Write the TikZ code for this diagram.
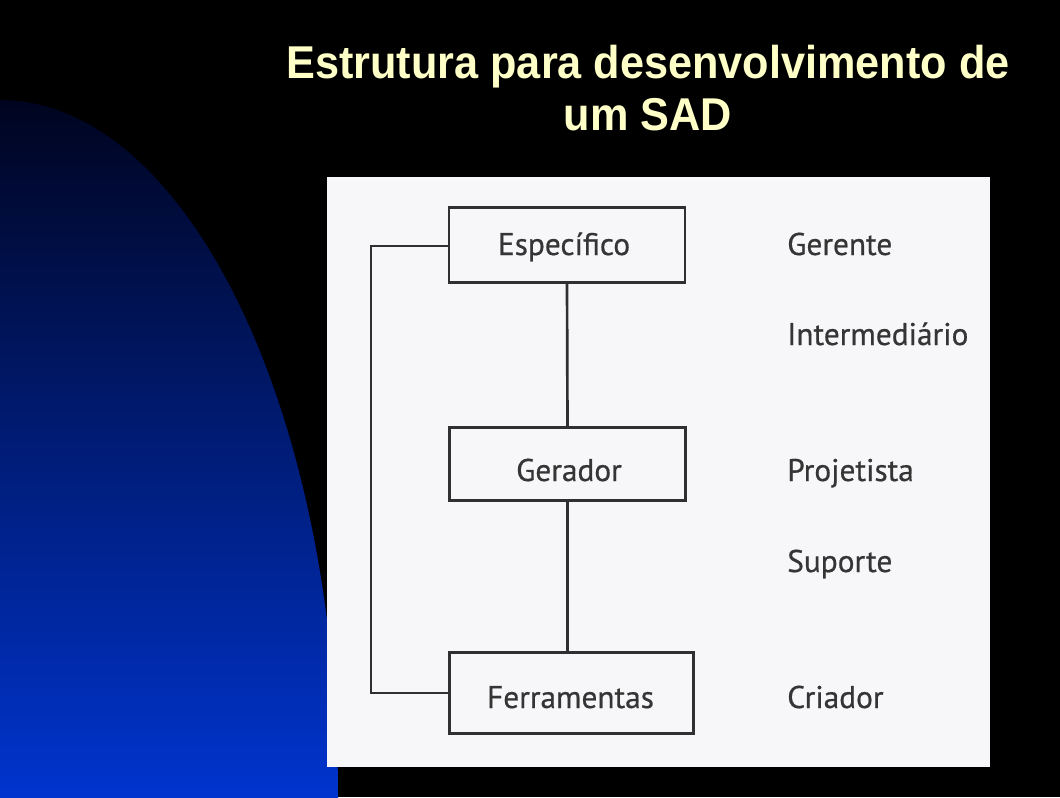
\documentclass[tikz,border=0pt]{standalone}
\usepackage{fontspec}
\setmainfont{PT Sans}
\newfontfamily\diagfont{PT Sans}[FakeBold=0.6]
\newfontfamily\titlefont{Liberation Sans}
\definecolor{titleyellow}{HTML}{FFFFC8}
\definecolor{paneltone}{HTML}{F7F7F9}
\definecolor{boxgray}{HTML}{303030}
\definecolor{inkgray}{HTML}{353535}
\definecolor{bluetop}{HTML}{00041F}
\definecolor{bluemid}{HTML}{00239A}
\definecolor{bluebottom}{HTML}{0034CE}
\begin{document}
\begin{tikzpicture}[x=0.75pt,y=-0.75pt,
  titletext/.style={anchor=base, text=titleyellow, inner sep=0pt,
    font=\titlefont\bfseries\fontsize{34.5pt}{40pt}\selectfont},
  levelbox/.style={draw=boxgray, line width=2.2pt, rectangle, inner sep=0pt,
    font=\diagfont\fontsize{23.5pt}{28pt}\selectfont, text=inkgray},
  roletext/.style={anchor=base west, inner sep=0pt, text=inkgray,
    font=\diagfont\fontsize{23.5pt}{28pt}\selectfont},
  link/.style={draw=boxgray, line width=2pt}]
% background
\fill[black] (0,0) rectangle (1060,797);
\useasboundingbox (0,0) rectangle (1060,797);
\begin{scope}
  \clip (0,797) ellipse [x radius=338, y radius=697];
  \shade[top color=bluetop, middle color=bluemid, bottom color=bluebottom] (0,100) rectangle (340,797);
\end{scope}
% title
\node[titletext] (t1) at (648,78) {\scalebox{0.94}[1]{Estrutura para desenvolvimento de}};
\node[titletext] (t2) at (648,130) {\scalebox{0.94}[1]{um SAD}};
% panel
\fill[paneltone] (327,177) rectangle (990,767);
% boxes
\node[levelbox, minimum width=177pt, minimum height=56pt] (esp) at (567,245) {};
\node[levelbox, minimum width=177pt, minimum height=55pt] (ger) at (567.5,464) {};
\node[levelbox, minimum width=183pt, minimum height=61pt] (fer) at (571.5,693) {};
\node[roletext, anchor=base] (espt) at (564,255) {Específico};
\node[roletext, anchor=base] (gert) at (569,481) {Gerador};
\node[roletext, anchor=base] (fert) at (570.5,708) {Ferramentas};
% connectors
\coordinate (lt) at (371,246);
\draw[link] (esp.south) -- (ger.north);
\draw[link] (ger.south) -- (fer.north -| ger.south);
\draw[link] (esp.west |- lt) -- (lt) |- (fer.west);
% roles
\node[roletext] (r1) at (787,255) {Gerente};
\node[roletext] (r2) at (787,345) {Intermediário};
\node[roletext] (r3) at (787,481) {Projetista};
\node[roletext] (r4) at (787,572) {Suporte};
\node[roletext] (r5) at (787,708) {Criador};
\end{tikzpicture}
\end{document}
